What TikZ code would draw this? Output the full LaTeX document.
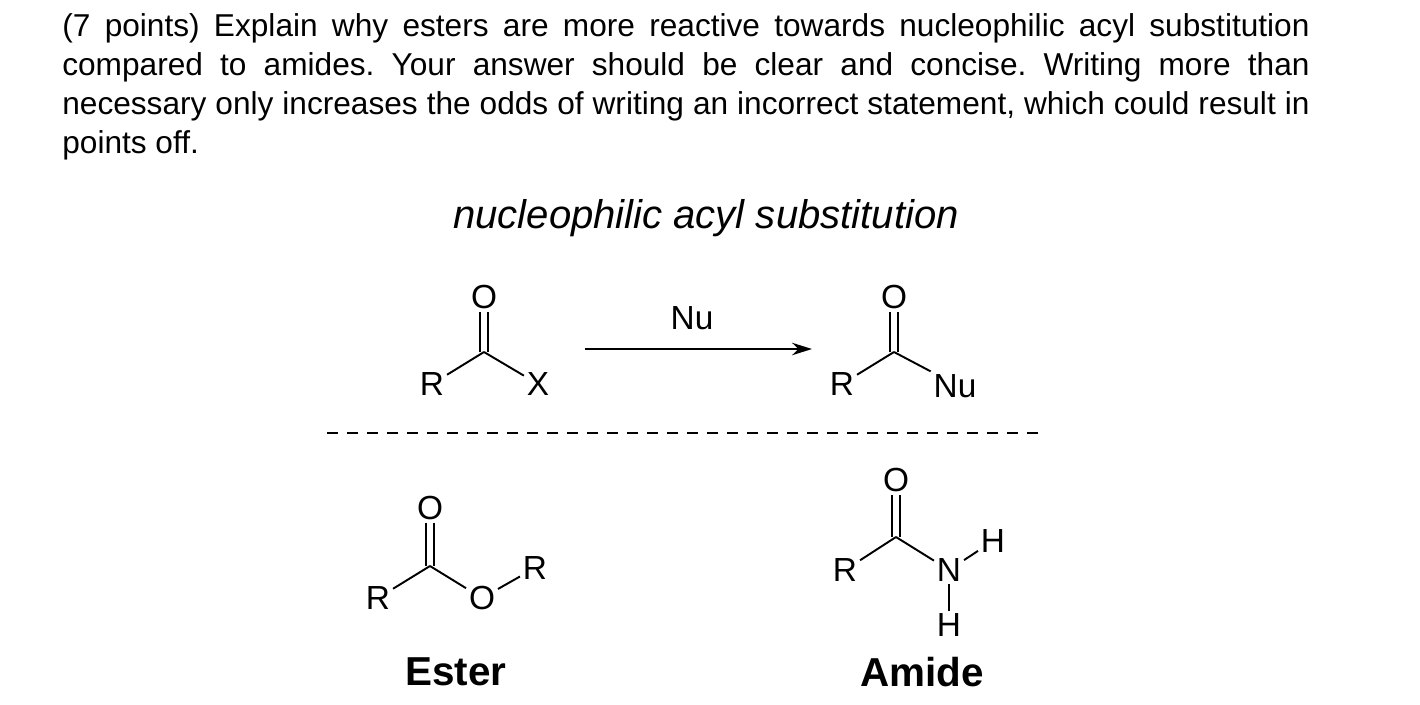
\documentclass[tikz,border=0pt]{standalone}
\usepackage{fontspec}
\setmainfont{Liberation Sans}
\usetikzlibrary{arrows.meta}
\tikzset{
  atom/.style={inner sep=1.5pt, font=\fontsize{19}{19}\selectfont},
  bond/.style={line width=1.1pt},
  dbond/.style={line width=1.1pt, double, double distance=0.13cm},
}
\begin{document}
\frenchspacing
\begin{tikzpicture}[x=0.02cm, y=-0.02cm]
    \useasboundingbox (0,0) rectangle (1420,704);
    \node[anchor=north west, text width=24.95cm, align=justify, inner sep=0pt,
          font=\fontsize{18}{22.2}\selectfont] (question) at (62,13)
      {\hyphenpenalty=10000 (7 points) Explain why esters are more reactive towards nucleophilic acyl substitution\linebreak compared to amides. Your answer should be clear and concise. Writing more than\linebreak necessary only increases the odds of writing an incorrect statement, which could result in\linebreak points off.};
    \node[font=\fontsize{22.8}{22.8}\selectfont\itshape] (title) at (706,218) {nucleophilic acyl substitution};

    % reactant
    \node[atom] (o_r) at (484,297) {O};
    \coordinate (c_r) at (484,352);
    \node[atom] (r_r) at (432,384) {R};
    \node[atom] (x_r) at (538,384) {X};
    \draw[dbond] (c_r) -- (o_r);
    \draw[bond] (r_r) -- (c_r);
    \draw[bond] (c_r) -- (x_r);

    % arrow
    \coordinate (arr_s) at (585,349);
    \coordinate (arr_e) at (812,349);
    \draw[line width=1.1pt, -{Stealth[length=0.4cm, width=0.25cm]}] (arr_s) -- (arr_e);
    \node[atom] (nu_a) at (692,318) {Nu};

    % product
    \node[atom] (o_p) at (894,297) {O};
    \coordinate (c_p) at (894,352);
    \node[atom] (r_p) at (842,384) {R};
    \node[atom] (nu_p) at (955,386) {Nu};
    \draw[dbond] (c_p) -- (o_p);
    \draw[bond] (r_p) -- (c_p);
    \draw[bond] (c_p) -- (nu_p.north west);

    % separator
    \coordinate (sep_l) at (327,433);
    \coordinate (sep_r) at (1043,433);
    \draw[line width=1pt, dash pattern=on 0.22cm off 0.18cm] (sep_l) -- (sep_r);

    % ester
    \node[atom] (o_e) at (430,508) {O};
    \coordinate (c_e) at (430,566);
    \node[atom] (r_e) at (378,598) {R};
    \node[atom] (os_e) at (482,598) {O};
    \node[atom] (r2_e) at (535,568) {R};
    \draw[dbond] (c_e) -- (o_e);
    \draw[bond] (r_e) -- (c_e);
    \draw[bond] (c_e) -- (os_e);
    \draw[bond] (os_e) -- (r2_e);
    \node[font=\fontsize{23}{23}\selectfont\bfseries] (ester) at (456,672) {Ester};

    % amide
    \node[atom] (o_a) at (896,480) {O};
    \coordinate (c_a) at (896,537);
    \node[atom] (r_a) at (845,570) {R};
    \node[atom] (n_a) at (949,570) {N};
    \node[atom] (h1_a) at (993,541) {H};
    \node[atom] (h2_a) at (949,625) {H};
    \draw[dbond] (c_a) -- (o_a);
    \draw[bond] (r_a) -- (c_a);
    \draw[bond] (c_a) -- (n_a);
    \draw[bond] (n_a) -- (h1_a);
    \draw[bond] (n_a) -- (h2_a);
    \node[font=\fontsize{23}{23}\selectfont\bfseries] (amide) at (922,672) {Amide};
\end{tikzpicture}
\end{document}
